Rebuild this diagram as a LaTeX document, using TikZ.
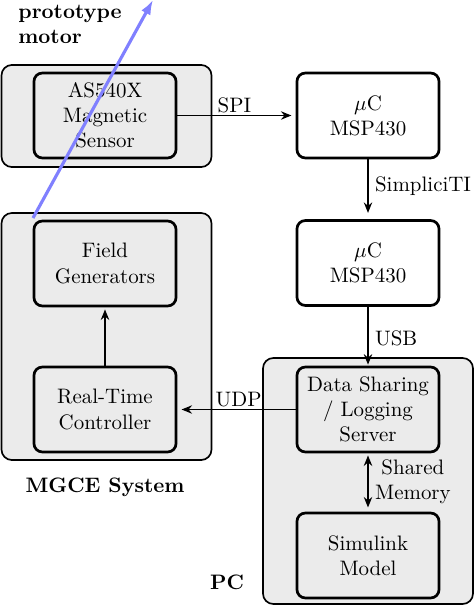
\documentclass[tikz,border=0pt]{standalone}
\usetikzlibrary{arrows.meta}
\definecolor{boxgray}{RGB}{235,235,235}
\definecolor{motorblue}{RGB}{128,128,255}
\begin{document}
\begin{tikzpicture}[x=0.478pt,y=-0.478pt,
  outerbox/.style={draw,line width=0.8pt,fill=boxgray,rounded corners=5pt,inner sep=0pt},
  innerbox/.style={draw,line width=1.3pt,rounded corners=4pt,align=center,
    minimum width=67.9pt,minimum height=40.6pt,inner sep=0pt},
  graybox/.style={innerbox,fill=boxgray},
  whitebox/.style={innerbox,fill=white},
  conn/.style={line width=0.8pt,-{Stealth[length=5pt,width=4pt]}},
  lbl/.style={inner sep=1pt},
  title/.style={font=\bfseries,align=left,inner sep=0pt}]
\useasboundingbox (0,0) rectangle (474,607);
% outer boxes
\node[outerbox,minimum width=100.4pt,minimum height=48.8pt] (sensorgrp) at (106.5,116) {};
\node[outerbox,minimum width=100.4pt,minimum height=118.1pt] (mgce) at (106.5,336.5) {};
\node[outerbox,minimum width=100.4pt,minimum height=117.6pt] (pc) at (368,481) {};
% inner boxes
\node[graybox] (sensor) at (105,115.5) {AS540X\\Magnetic\\Sensor};
\node[whitebox] (mc1) at (368,115.5) {$\mu$C\\MSP430};
\node[whitebox] (mc2) at (368,263) {$\mu$C\\MSP430};
\node[graybox] (field) at (105,263.5) {Field\\Generators};
\node[graybox] (rtc) at (105,409.5) {Real-Time\\Controller};
\node[graybox] (server) at (368,409.5) {Data Sharing\\/ Logging\\Server};
\node[graybox] (simulink) at (368,555.5) {Simulink\\Model};
% titles
\node[title,anchor=north west] (proto) at (18,5) {prototype\\motor};
\node[title] (mgcelbl) at (105,487) {MGCE System};
\node[title] (pclbl) at (227,582) {PC};
% connectors
\draw[conn] (sensor.east) -- node[lbl,above] {SPI} ([xshift=-2pt]mc1.west);
\draw[conn] (mc1.south) -- node[lbl,right,xshift=2pt] {SimpliciTI} ([yshift=3pt]mc2.north);
\draw[conn] (mc2.south) -- node[lbl,right,pos=0.55,xshift=2pt] {USB} ([yshift=0.5pt]server.north);
\draw[conn] (server.west) -- node[lbl,above] {UDP} ([xshift=2pt]rtc.east);
\draw[conn] (rtc.north) -- ([yshift=-1pt]field.south);
\draw[line width=0.8pt,{Stealth[length=5pt,width=4pt]}-{Stealth[length=5pt,width=4pt]}]
  ([yshift=-1pt]server.south) -- node[lbl,right,align=center,xshift=2pt] {Shared\\Memory} ([yshift=2pt]simulink.north);
% motor axis
\coordinate (motorA) at (33,218);
\coordinate (motorB) at (153,0);
\draw[motorblue,line width=1.5pt,-{Latex[length=7pt,width=5pt]}] (motorA) -- (motorB);
\end{tikzpicture}
\end{document}
